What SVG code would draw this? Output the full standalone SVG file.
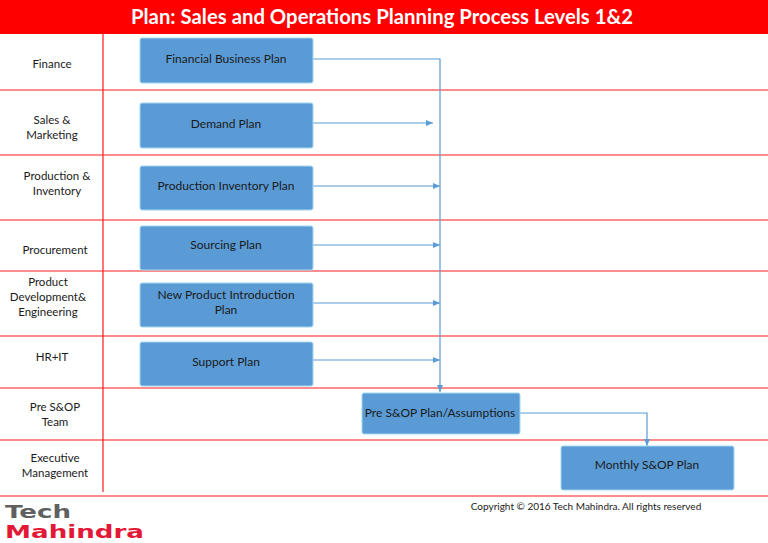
<svg xmlns="http://www.w3.org/2000/svg" width="768" height="543" viewBox="0 0 768 543">
<defs>
<marker id="ah" markerWidth="8" markerHeight="8" refX="7" refY="4" orient="auto" markerUnits="userSpaceOnUse"><path d="M0,1 L7,4 L0,7 z" fill="#5b9bd5"/></marker>
</defs>
<style>
.lane{stroke:#ff1a1a;stroke-width:1.2}
.box{fill:#5b9bd5;stroke:#9fd8f0;stroke-width:1}
.t{font-family:Lato,"Open Sans",sans-serif;font-size:12px;fill:#1a1a1a;text-anchor:middle}
.l{font-family:Lato,"Open Sans",sans-serif;font-size:11.5px;fill:#1a1a1a;text-anchor:middle}
.c{fill:none;stroke:#5b9bd5;stroke-width:1.2}
</style>
<rect width="768" height="543" fill="#fff"/>
<rect x="0" y="0" width="768" height="34" fill="#ff0000"/>
<text x="382" y="24" font-family="Lato,'Open Sans',sans-serif" font-size="20" font-weight="bold" fill="#fff" text-anchor="middle" textLength="502" lengthAdjust="spacingAndGlyphs">Plan: Sales and Operations Planning Process Levels 1&amp;2</text>
<g id="lanes">
<line class="lane" x1="103" y1="34" x2="103" y2="492"/>
<line class="lane" x1="0" y1="90" x2="768" y2="90"/>
<line class="lane" x1="0" y1="155" x2="768" y2="155"/>
<line class="lane" x1="0" y1="220" x2="768" y2="220"/>
<line class="lane" x1="0" y1="271" x2="768" y2="271"/>
<line class="lane" x1="0" y1="336" x2="768" y2="336"/>
<line class="lane" x1="0" y1="388" x2="768" y2="388"/>
<line class="lane" x1="0" y1="440" x2="768" y2="440"/>
<line class="lane" x1="0" y1="496" x2="768" y2="496" stroke-width="2" stroke="#ff6666"/>
<text class="l" x="52" y="68">Finance</text>
<text class="l" x="52" y="124">Sales &amp;</text><text class="l" x="52" y="139">Marketing</text>
<text class="l" x="57" y="180">Production &amp;</text><text class="l" x="57" y="195">Inventory</text>
<text class="l" x="55" y="254">Procurement</text>
<text class="l" x="48" y="286">Product</text><text class="l" x="48" y="301">Development&amp;</text><text class="l" x="48" y="316">Engineering</text>
<text class="l" x="52" y="361">HR+IT</text>
<text class="l" x="55" y="411">Pre S&amp;OP</text><text class="l" x="55" y="426">Team</text>
<text class="l" x="55" y="462">Executive</text><text class="l" x="55" y="477">Management</text>
</g>
<g id="connectors">
<polyline class="c" points="313,59 440,59 440,392" marker-end="url(#ah)"/>
<line class="c" x1="313" y1="123" x2="433" y2="123" marker-end="url(#ah)"/>
<line class="c" x1="313" y1="186" x2="440" y2="186" marker-end="url(#ah)"/>
<line class="c" x1="313" y1="245" x2="440" y2="245" marker-end="url(#ah)"/>
<line class="c" x1="313" y1="303" x2="440" y2="303" marker-end="url(#ah)"/>
<line class="c" x1="313" y1="360" x2="440" y2="360" marker-end="url(#ah)"/>
<polyline class="c" points="520,413 647,413 647,446" marker-end="url(#ah)"/>
</g>
<g id="n1"><rect class="box" x="140" y="38" width="173" height="45" rx="2"/><text class="t" x="226" y="63">Financial Business Plan</text></g>
<g id="n2"><rect class="box" x="140" y="103" width="173" height="45" rx="2"/><text class="t" x="226" y="128">Demand Plan</text></g>
<g id="n3"><rect class="box" x="140" y="166" width="173" height="44" rx="2"/><text class="t" x="226" y="190">Production Inventory Plan</text></g>
<g id="n4"><rect class="box" x="140" y="226" width="173" height="44" rx="2"/><text class="t" x="226" y="249">Sourcing Plan</text></g>
<g id="n5"><rect class="box" x="140" y="283" width="173" height="44" rx="2"/><text class="t" x="226" y="299">New Product Introduction</text><text class="t" x="226" y="314">Plan</text></g>
<g id="n6"><rect class="box" x="140" y="342" width="173" height="44" rx="2"/><text class="t" x="226" y="366">Support Plan</text></g>
<g id="n7"><rect class="box" x="362" y="393" width="158" height="41" rx="2"/><text class="t" x="440" y="417">Pre S&amp;OP Plan/Assumptions</text></g>
<g id="n8"><rect class="box" x="561" y="446" width="173" height="44" rx="2"/><text class="t" x="647" y="469">Monthly S&amp;OP Plan</text></g>
<text x="586" y="510" font-family="Lato,'Open Sans',sans-serif" font-size="10" fill="#222" text-anchor="middle">Copyright © 2016 Tech Mahindra. All rights reserved</text>
<text x="5" y="518" font-family="'DejaVu Sans',sans-serif" font-size="17" font-weight="bold" fill="#606060" textLength="66" lengthAdjust="spacingAndGlyphs">Tech</text>
<text x="5" y="538" font-family="'DejaVu Sans',sans-serif" font-size="17" font-weight="bold" fill="#e31837" textLength="139" lengthAdjust="spacingAndGlyphs">Mahindra</text>
</svg>
